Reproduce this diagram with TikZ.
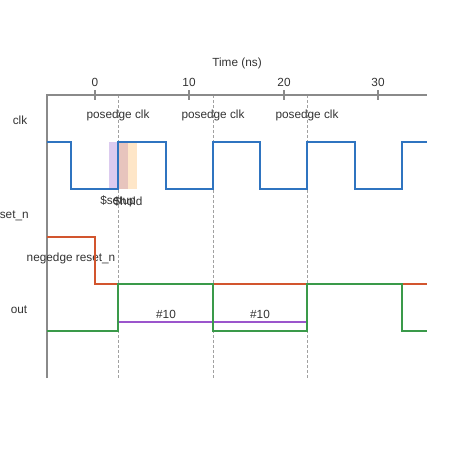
\documentclass[tikz,border=0pt]{standalone}
\usepackage{fontspec}
\setmainfont{Liberation Sans}
\definecolor{axisgray}{HTML}{8A8A8A}
\definecolor{txt}{HTML}{333333}
\definecolor{clkblue}{HTML}{2F74C0}
\definecolor{rstred}{HTML}{D2552E}
\definecolor{outgreen}{HTML}{3A9A4A}
\definecolor{dlypurple}{HTML}{9B55CC}
\definecolor{setupfill}{HTML}{9B6BD0}
\definecolor{holdfill}{HTML}{FDB860}
\tikzset{
  axisline/.style={draw=axisgray, line width=1.4pt},
  guide/.style={draw=axisgray!80, line width=1pt, dash pattern=on 3pt off 2pt},
  lbl/.style={text=txt, font=\fontsize{11.8}{14}\selectfont, inner sep=0pt, yshift=-1.5pt},
  wave/.style={line width=1.4pt, line join=miter},
}
\begin{document}
\begin{tikzpicture}[x=1pt,y=-1pt]
\useasboundingbox (0,0) rectangle (474,474);
% shading
\fill[setupfill, opacity=0.35] (109,142) rectangle (128,189);
\fill[holdfill, opacity=0.35] (118,142) rectangle (137,189);
% guides
\foreach \gx in {118,213,307} \draw[guide] (\gx,95) -- (\gx,378);
% axes
\draw[axisline] (47,378) -- (47,95) -- (427,95);
\foreach \tx/\tl in {95/0,189/10,284/20,378/30} {
  \draw[axisline, line width=1.2pt] (\tx,90) -- (\tx,100);
  \node[lbl] at (\tx,81) {\tl};
}
\node[lbl] (tlabel) at (237,62) {Time (ns)};
% signal names
\node[lbl] (nclk) at (20,119) {clk};
\node[lbl] (nrst) at (9,214) {reset\_n};
\node[lbl] (nout) at (19,308) {out};
% event labels
\node[lbl] (pe1) at (118,114) {posedge clk};
\node[lbl] (pe2) at (213,114) {posedge clk};
\node[lbl] (pe3) at (307,114) {posedge clk};
\node[lbl] (neg) at (71,257) {negedge reset\_n};
\node[lbl] (su) at (118,200) {\$setup};
\node[lbl] (ho) at (128,200) {\$hold};
\node[lbl] (d1) at (166,313) {\#10};
\node[lbl] (d2) at (260,313) {\#10};
% reset_n
\draw[wave, rstred] (47,237) -- (95,237) -- (95,284) -- (427,284);
% delay line
\draw[wave, dlypurple] (118,322) -- (307,322);
% out
\draw[wave, outgreen] (47,331) -- (118,331) -- (118,284) -- (213,284) -- (213,331) -- (307,331) -- (307,284) -- (402,284) -- (402,331) -- (427,331);
% clk
\draw[wave, clkblue] (47,142) -- (71,142) -- (71,189) -- (118,189) -- (118,142) -- (166,142) -- (166,189) -- (213,189) -- (213,142) -- (260,142) -- (260,189) -- (307,189) -- (307,142) -- (355,142) -- (355,189) -- (402,189) -- (402,142) -- (427,142);
\end{tikzpicture}
\end{document}
